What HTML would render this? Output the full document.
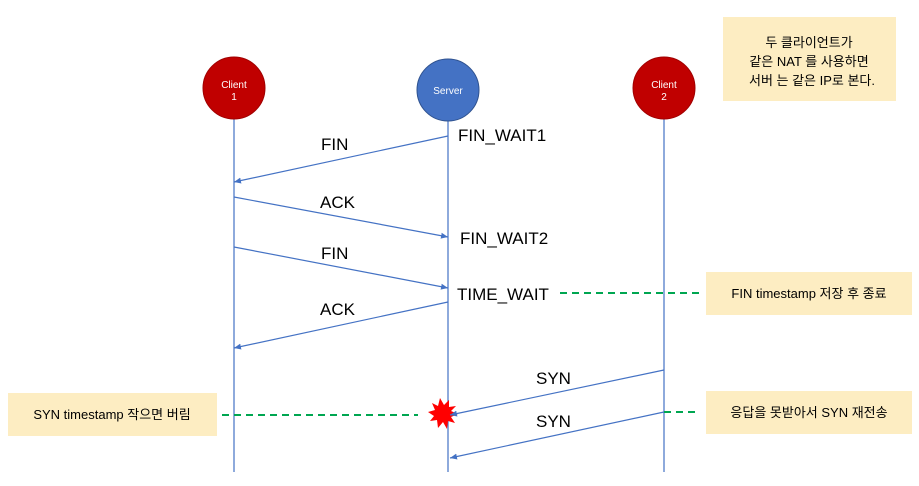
<!DOCTYPE html>
<html><head><meta charset="utf-8"><style>
body{margin:0;background:#fff;}
svg text{font-family:"Liberation Sans","Noto Sans CJK KR",sans-serif;}
</style></head><body>
<svg width="919" height="481" viewBox="0 0 919 481" xmlns="http://www.w3.org/2000/svg">
<defs><marker id="a" markerWidth="8" markerHeight="8" refX="7" refY="4" orient="auto" markerUnits="userSpaceOnUse"><path d="M0,1 L7,4 L0,7 Z" fill="#4472c4"/></marker></defs>
<g stroke="#4472c4" stroke-width="1.2">
<line x1="234" y1="119" x2="234" y2="472"/>
<line x1="448" y1="121" x2="448" y2="472"/>
<line x1="664" y1="119" x2="664" y2="472"/>
</g>
<circle cx="234" cy="88" r="31" fill="#c00000" stroke="#a00000"/>
<circle cx="448" cy="90" r="31" fill="#4472c4" stroke="#2f528f"/>
<circle cx="664" cy="88" r="31" fill="#c00000" stroke="#a00000"/>
<g fill="#fff" font-size="10" text-anchor="middle">
<text x="234" y="88">Client</text><text x="234" y="100">1</text>
<text x="448" y="94">Server</text>
<text x="664" y="88">Client</text><text x="664" y="100">2</text>
</g>
<polygon fill="#ff0000" points="440,398 444,405 449,400 449,407 456,406 451,411 458,414 451,417 455,423 448,421 447,429 443,422 438,428 437,420 430,421 434,416 428,412 435,410 432,403 438,406" />
<g stroke="#4472c4" stroke-width="1.2" marker-end="url(#a)">
<line x1="448" y1="136" x2="234" y2="182"/>
<line x1="234" y1="197" x2="448" y2="237"/>
<line x1="234" y1="247" x2="448" y2="288"/>
<line x1="448" y1="302" x2="234" y2="348"/>
<line x1="664" y1="370" x2="450" y2="415"/>
<line x1="664" y1="412" x2="450" y2="458"/>
</g>
<g font-size="17" fill="#000">
<text x="321" y="150">FIN</text>
<text x="458" y="141">FIN_WAIT1</text>
<text x="320" y="208">ACK</text>
<text x="460" y="244">FIN_WAIT2</text>
<text x="321" y="259">FIN</text>
<text x="457" y="300">TIME_WAIT</text>
<text x="320" y="315">ACK</text>
<text x="536" y="384">SYN</text>
<text x="536" y="427">SYN</text>
</g>
<g stroke="#00a651" stroke-width="2" stroke-dasharray="7,5">
<line x1="560" y1="293" x2="700" y2="293"/>
<line x1="222" y1="415" x2="418" y2="415"/>
<line x1="664" y1="412" x2="700" y2="412"/>
</g>
<rect x="723" y="17" width="173" height="84" fill="#fdedc2"/>
<g font-size="13" text-anchor="middle" fill="#000">
<text x="809" y="47">두 클라이언트가</text>
<text x="809" y="66">같은 NAT 를 사용하면</text>
<text x="812" y="85">서버 는 같은 IP로 본다.</text>
</g>
<rect x="706" y="272" width="206" height="43" fill="#fdedc2"/>
<rect x="8" y="393" width="209" height="43" fill="#fdedc2"/>
<rect x="706" y="391" width="206" height="43" fill="#fdedc2"/>
<g font-size="13" fill="#000" text-anchor="middle">
<text x="809" y="298">FIN timestamp 저장 후 종료</text>
<text x="112" y="419">SYN timestamp 작으면 버림</text>
<text x="809" y="417">응답을 못받아서 SYN 재전송</text>
</g>
</svg>
</body></html>
